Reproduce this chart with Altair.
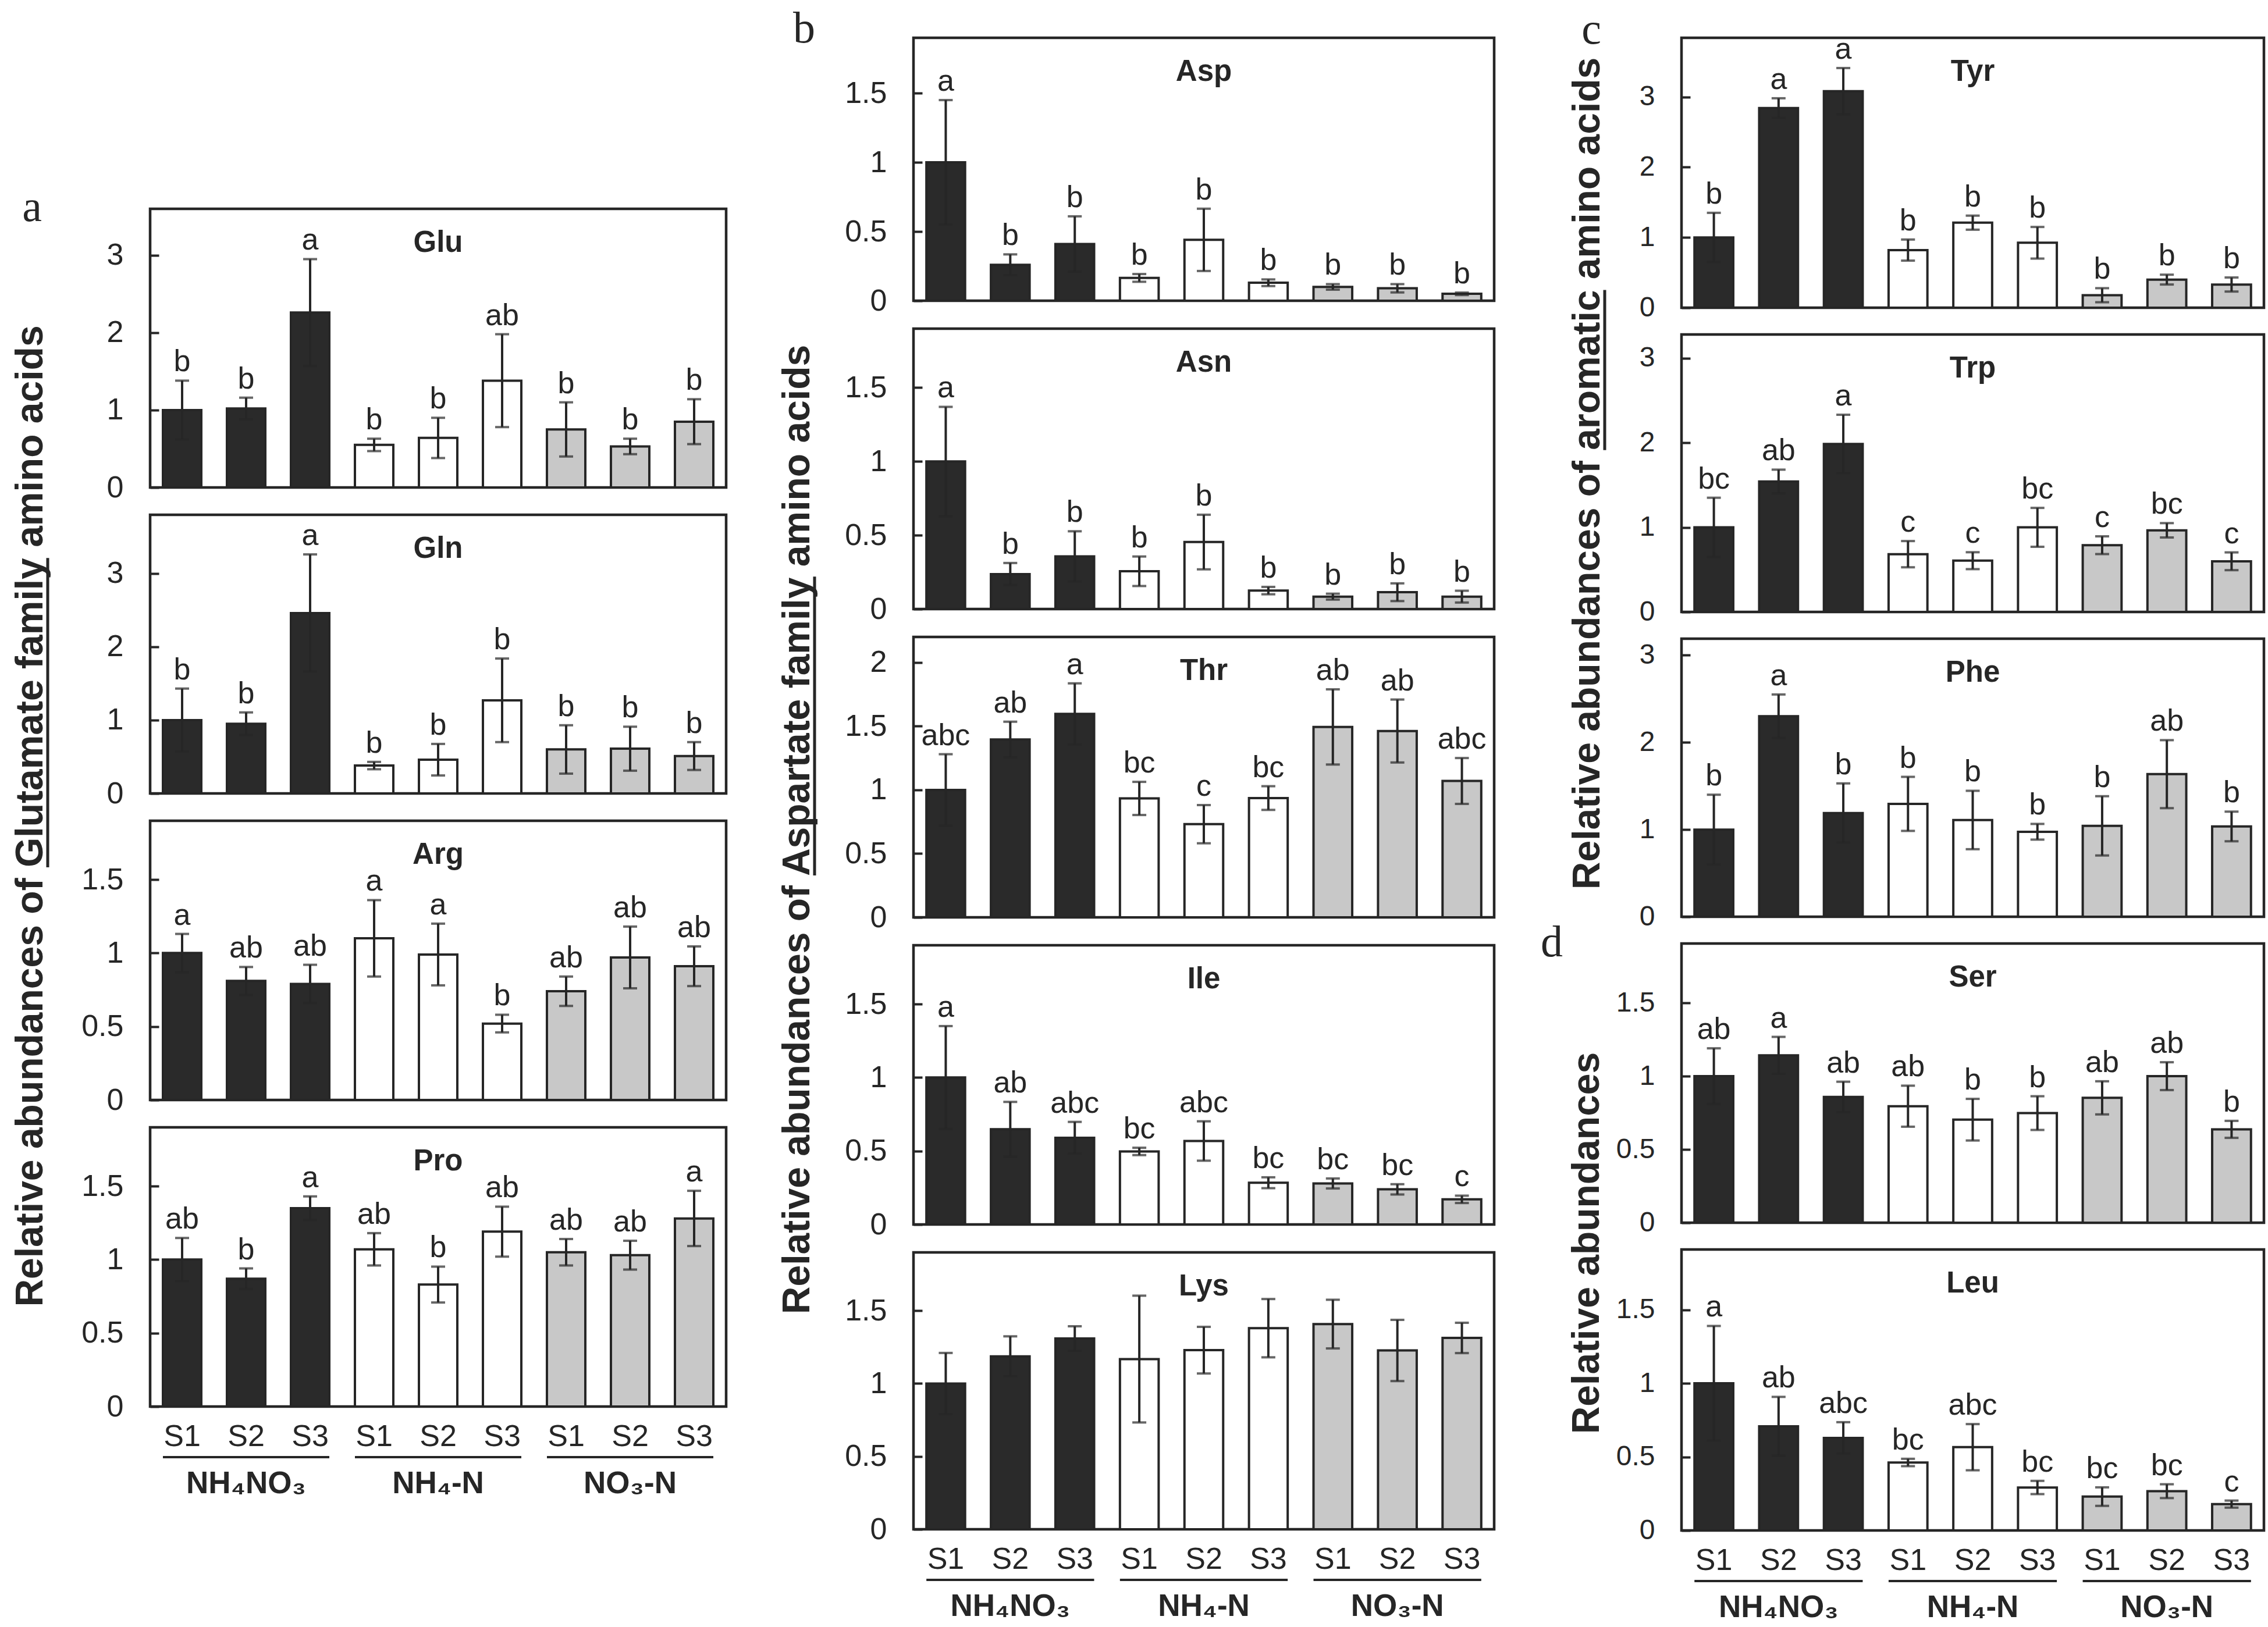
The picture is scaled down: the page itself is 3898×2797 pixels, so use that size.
import altair as alt
import pandas as pd

# ---------------- data ----------------
GROUPS = ["NH₄NO₃", "NH₄-N", "NO₃-N"]
STAGES = ["S1", "S2", "S3"]

GLU_MEAN = [1.00, 1.02, 2.26, 0.55, 0.64, 1.38, 0.75, 0.53, 0.85]
GLU_SD = [0.38, 0.14, 0.69, 0.08, 0.26, 0.60, 0.35, 0.10, 0.29]
GLU_LET = ["b", "b", "a", "b", "b", "ab", "b", "b", "b"]

GLN_MEAN = [1.00, 0.95, 2.46, 0.38, 0.46, 1.27, 0.60, 0.61, 0.51]
GLN_SD = [0.43, 0.155, 0.80, 0.05, 0.215, 0.57, 0.33, 0.30, 0.19]
GLN_LET = ["b", "b", "a", "b", "b", "b", "b", "b", "b"]

ARG_MEAN = [1.00, 0.81, 0.79, 1.10, 0.99, 0.52, 0.74, 0.97, 0.91]
ARG_SD = [0.13, 0.095, 0.13, 0.26, 0.21, 0.06, 0.10, 0.21, 0.135]
ARG_LET = ["a", "ab", "ab", "a", "a", "b", "ab", "ab", "ab"]

PRO_MEAN = [1.00, 0.87, 1.35, 1.07, 0.83, 1.19, 1.05, 1.03, 1.28]
PRO_SD = [0.147, 0.07, 0.08, 0.11, 0.122, 0.17, 0.09, 0.098, 0.188]
PRO_LET = ["ab", "b", "a", "ab", "b", "ab", "ab", "ab", "a"]

ASP_MEAN = [1.00, 0.26, 0.41, 0.165, 0.44, 0.13, 0.10, 0.09, 0.05]
ASP_SD = [0.45, 0.075, 0.20, 0.028, 0.225, 0.024, 0.02, 0.03, 0.009]
ASP_LET = ["a", "b", "b", "b", "b", "b", "b", "b", "b"]

ASN_MEAN = [1.00, 0.237, 0.357, 0.256, 0.454, 0.125, 0.084, 0.114, 0.084]
ASN_SD = [0.37, 0.075, 0.17, 0.10, 0.185, 0.025, 0.02, 0.06, 0.04]
ASN_LET = ["a", "b", "b", "b", "b", "b", "b", "b", "b"]

THR_MEAN = [1.00, 1.395, 1.596, 0.933, 0.731, 0.936, 1.494, 1.462, 1.07]
THR_SD = [0.28, 0.14, 0.24, 0.13, 0.15, 0.093, 0.295, 0.247, 0.18]
THR_LET = ["abc", "ab", "a", "bc", "c", "bc", "ab", "ab", "abc"]

ILE_MEAN = [1.00, 0.648, 0.59, 0.497, 0.568, 0.284, 0.279, 0.239, 0.171]
ILE_SD = [0.35, 0.186, 0.108, 0.025, 0.134, 0.037, 0.034, 0.035, 0.025]
ILE_LET = ["a", "ab", "abc", "bc", "abc", "bc", "bc", "bc", "c"]

LYS_MEAN = [1.00, 1.187, 1.309, 1.168, 1.229, 1.38, 1.408, 1.227, 1.313]
LYS_SD = [0.21, 0.137, 0.084, 0.435, 0.16, 0.20, 0.167, 0.21, 0.104]
LYS_LET = ["", "", "", "", "", "", "", "", ""]

TYR_MEAN = [1.00, 2.84, 3.08, 0.82, 1.21, 0.924, 0.178, 0.40, 0.33]
TYR_SD = [0.35, 0.14, 0.33, 0.15, 0.10, 0.225, 0.10, 0.07, 0.10]
TYR_LET = ["b", "a", "a", "b", "b", "b", "b", "b", "b"]

TRP_MEAN = [1.00, 1.542, 1.986, 0.683, 0.606, 1.00, 0.789, 0.965, 0.599]
TRP_SD = [0.35, 0.14, 0.345, 0.155, 0.10, 0.23, 0.105, 0.085, 0.105]
TRP_LET = ["bc", "ab", "a", "c", "c", "bc", "c", "bc", "c"]

PHE_MEAN = [1.00, 2.30, 1.19, 1.295, 1.11, 0.975, 1.043, 1.636, 1.036]
PHE_SD = [0.40, 0.25, 0.34, 0.31, 0.335, 0.09, 0.34, 0.39, 0.17]
PHE_LET = ["b", "a", "b", "b", "b", "b", "b", "ab", "b"]

SER_MEAN = [1.00, 1.142, 0.858, 0.795, 0.703, 0.748, 0.852, 1.00, 0.637]
SER_SD = [0.19, 0.126, 0.104, 0.14, 0.142, 0.115, 0.113, 0.095, 0.058]
SER_LET = ["ab", "a", "ab", "ab", "b", "b", "ab", "ab", "b"]

LEU_MEAN = [1.00, 0.708, 0.629, 0.462, 0.566, 0.292, 0.23, 0.267, 0.179]
LEU_SD = [0.39, 0.20, 0.107, 0.025, 0.157, 0.045, 0.063, 0.047, 0.024]
LEU_LET = ["a", "ab", "abc", "bc", "abc", "bc", "bc", "bc", "c"]

TITLE_A = "Relative abundances of Glutamate family amino acids"
TITLE_B = "Relative abundances of Aspartate family amino acids"
TITLE_C = "Relative abundances of aromatic amino acids"
TITLE_D = "Relative abundances"

TICKS_INT = [0, 1, 2, 3]
TICKS_HALF = [0, 0.5, 1, 1.5]
TICKS_THR = [0, 0.5, 1, 1.5, 2]

# ---------------- style ----------------
SANS = "Liberation Sans, Arial, Helvetica, sans-serif"
SERIF = "Liberation Serif, Times New Roman, serif"
INK = "#262626"
FILLS = ["#2a2a2a", "#ffffff", "#c8c8c8"]
KEYS = [f"{g}|{s}" for g in GROUPS for s in STAGES]
TF = 66  # y-title font size


def table(means, sds, letters):
    return pd.DataFrame({
        "key": KEYS,
        "group": [g for g in GROUPS for _ in STAGES],
        "stage": STAGES * 3,
        "mean": means,
        "lo": [m - s for m, s in zip(means, sds)],
        "hi": [m + s for m, s in zip(means, sds)],
        "letter": letters,
    })


def one(text):
    return alt.Chart(pd.DataFrame({"t": [text]}))


def anchor(x, y):
    # tiny white rule that fixes the outer corner of a column's bounds
    return one("").mark_rule(color="white", strokeWidth=1).encode(
        x=alt.value(x), x2=alt.value(x + 1), y=alt.value(y))


def col_title(text, x, yc, total_em, prefix_em, under_em):
    layers = [one(text).mark_text(angle=270, font=SANS, fontSize=TF, fontWeight="bold",
                                  align="center", baseline="alphabetic", color=INK)
              .encode(x=alt.value(x), y=alt.value(yc), text="t:N")]
    if under_em > 0:
        start = yc + total_em * TF / 2
        u1 = start - prefix_em * TF
        u2 = u1 - under_em * TF
        layers.append(one(text).mark_rule(color=INK, strokeWidth=5)
                      .encode(x=alt.value(x + 9), y=alt.value(u1), y2=alt.value(u2)))
    return layers


def panel_letter(ch, x, y):
    return one(ch).mark_text(font=SERIF, fontSize=76, align="center", baseline="alphabetic",
                             color=INK).encode(x=alt.value(x), y=alt.value(y), text="t:N")


def panel(name, means, sds, letters, ymax, ticks, width, height, tick_fs,
          bottom=False, extra=()):
    df = table(means, sds, letters)
    base = alt.Chart(df)
    xs = alt.Scale(domain=KEYS, paddingInner=0.4, paddingOuter=0.2)
    X = alt.X("key:N", scale=xs, axis=None)
    ys = alt.Scale(domain=[0, ymax], nice=False, zero=True)
    yaxis = alt.Axis(values=ticks, format="~g", title=None, offset=-15, tickSize=15,
                     tickWidth=4, tickColor=INK, domain=False, grid=False, labelPadding=46,
                     labelFont=SANS, labelFontSize=tick_fs, labelColor=INK)
    bars = base.mark_bar(stroke=INK, strokeWidth=4).encode(
        x=X, y=alt.Y("mean:Q", scale=ys, axis=yaxis),
        fill=alt.Fill("group:N", scale=alt.Scale(domain=GROUPS, range=FILLS), legend=None))
    err = base.mark_rule(color=INK, strokeWidth=4).encode(
        x=X, y=alt.Y("lo:Q", scale=ys, axis=yaxis), y2="hi:Q")
    cap_hi = base.mark_tick(color=INK, thickness=4, size=24).encode(
        x=X, y=alt.Y("hi:Q", scale=ys, axis=yaxis))
    cap_lo = base.mark_tick(color=INK, thickness=4, size=24).encode(
        x=X, y=alt.Y("lo:Q", scale=ys, axis=yaxis))
    lets = base.mark_text(font=SANS, fontSize=52, dy=-16, baseline="alphabetic",
                          color=INK).encode(
        x=X, y=alt.Y("hi:Q", scale=ys, axis=yaxis), text="letter:N")
    ttl = one(name).mark_text(font=SANS, fontSize=51, fontWeight="bold", align="center",
                              baseline="alphabetic", color=INK).encode(
        x=alt.value(width / 2), y=alt.value(74), text="t:N")
    layers = [bars, err, cap_hi, cap_lo, lets, ttl]
    if bottom:
        layers.append(base.mark_text(font=SANS, fontSize=52, baseline="middle", color=INK)
                      .encode(x=X, y=alt.value(height + 52), text="stage:N"))
        gdf = pd.DataFrame({
            "group": GROUPS,
            "k1": [f"{g}|S1" for g in GROUPS],
            "k2": [f"{g}|S2" for g in GROUPS],
            "k3": [f"{g}|S3" for g in GROUPS],
        })
        gb = alt.Chart(gdf)
        layers.append(gb.mark_rule(color=INK, strokeWidth=4).encode(
            x=alt.X("k1:N", scale=xs, axis=None, bandPosition=0),
            x2=alt.X2("k3:N", bandPosition=1),
            y=alt.value(height + 87)))
        layers.append(gb.mark_text(font=SANS, fontSize=53, fontWeight="bold",
                                   baseline="middle", color=INK).encode(
            x=alt.X("k2:N", scale=xs, axis=None), y=alt.value(height + 133), text="group:N"))
    layers.extend(extra)
    return alt.layer(*layers).properties(width=width, height=height)


WA, WB, WC = 990, 998, 1001
GAP = 40

# Column a
spacer = alt.layer(anchor(-255, -62)).properties(
    width=WA, height=247, view=alt.ViewBackground(stroke="transparent"))
glu = panel("Glu", GLU_MEAN, GLU_SD, GLU_LET, 3.6, TICKS_INT, WA, 479, 52,
            extra=col_title(TITLE_A, -185, 1044, 25.564, 11.448, 8.058)
            + [panel_letter("a", -203, 21)])
gln = panel("Gln", GLN_MEAN, GLN_SD, GLN_LET, 3.8, TICKS_INT, WA, 479, 52)
arg = panel("Arg", ARG_MEAN, ARG_SD, ARG_LET, 1.9, TICKS_HALF, WA, 480, 52)
pro = panel("Pro", PRO_MEAN, PRO_SD, PRO_LET, 1.9, TICKS_HALF, WA, 480, 52, bottom=True)
col_a = alt.vconcat(spacer, glu, gln, arg, pro, spacing=47, bounds="flush")

# Column b
asp = panel("Asp", ASP_MEAN, ASP_SD, ASP_LET, 1.9, TICKS_HALF, WB, 452, 52,
            extra=col_title(TITLE_B, -179, 1361, 25.287, 11.448, 7.781)
            + [panel_letter("b", -188, 8), anchor(-276, -62)])
asn = panel("Asn", ASN_MEAN, ASN_SD, ASN_LET, 1.9, TICKS_HALF, WB, 482, 52)
thr = panel("Thr", THR_MEAN, THR_SD, THR_LET, 2.2, TICKS_THR, WB, 482, 52)
ile = panel("Ile", ILE_MEAN, ILE_SD, ILE_LET, 1.9, TICKS_HALF, WB, 480, 52)
lys = panel("Lys", LYS_MEAN, LYS_SD, LYS_LET, 1.9, TICKS_HALF, WB, 476, 52, bottom=True)
col_b = alt.vconcat(asp, asn, thr, ile, lys, spacing=48, bounds="flush")

# Column c / d (one flat stack)
tyr = panel("Tyr", TYR_MEAN, TYR_SD, TYR_LET, 3.84, TICKS_INT, WC, 464, 48,
            extra=col_title(TITLE_C, -141, 749, 21.674, 11.448, 4.168)
            + [panel_letter("c", -155, 10), anchor(-276, -62)])
trp = panel("Trp", TRP_MEAN, TRP_SD, TRP_LET, 3.28, TICKS_INT, WC, 477, 48)
phe = panel("Phe", PHE_MEAN, PHE_SD, PHE_LET, 3.19, TICKS_INT, WC, 478, 48)
ser = panel("Ser", SER_MEAN, SER_SD, SER_LET, 1.905, TICKS_HALF, WC, 480, 48,
            extra=col_title(TITLE_D, -142, 515, 9.948, 0, 0)
            + [panel_letter("d", -223, 22)])
leu = panel("Leu", LEU_MEAN, LEU_SD, LEU_LET, 1.91, TICKS_HALF, WC, 483, 48, bottom=True)
col_c = alt.vconcat(tyr, trp, phe, ser, leu, spacing=46, bounds="flush")

chart = alt.hconcat(col_a, col_b, col_c, spacing=GAP).properties(
    padding={"left": 0, "top": 0, "right": 0, "bottom": 0},
    background="white",
).configure(font=SANS).configure_view(stroke=INK, strokeWidth=4.5)

chart.save("out.html", embed_options={"renderer": "svg", "actions": False})
